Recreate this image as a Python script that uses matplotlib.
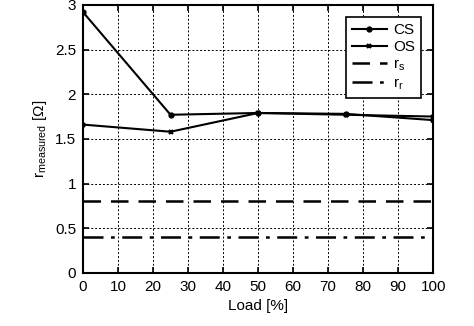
import matplotlib
matplotlib.use('Agg')
import matplotlib.pyplot as plt
import numpy as np

plt.rcParams['font.family'] = ['Liberation Sans', 'DejaVu Sans']
plt.rcParams['mathtext.fontset'] = 'custom'
plt.rcParams['mathtext.rm'] = 'Liberation Sans'

load = [0, 25, 50, 75, 100]
cs = [2.92, 1.77, 1.79, 1.78, 1.71]
os_ = [1.66, 1.58, 1.79, 1.77, 1.75]
r_s = 0.8
r_r = 0.4

fig = plt.figure(figsize=(4.74, 3.26), dpi=100)
ax = fig.add_axes([0.175, 0.163, 0.739, 0.822])

ax.plot(load, cs, color='black', lw=1.5, marker='o', ms=3.5, label='CS')
ax.plot(load, os_, color='black', lw=1.5, marker='x', ms=3.5, mew=1.5, label='OS')
ax.axhline(r_s, color='black', lw=1.8, ls=(0, (7, 4)), label='r$_{\\rm s}$')
ax.axhline(r_r, color='black', lw=1.8, ls=(0, (8, 3, 1.5, 3)), label='r$_{\\rm r}$')

ax.set_xlim(0, 100)
ax.set_ylim(0, 3)
ax.set_xticks(np.arange(0, 101, 10))
ax.set_yticks([0, 0.5, 1, 1.5, 2, 2.5, 3])
ax.set_yticklabels(['0', '0.5', '1', '1.5', '2', '2.5', '3'])
ax.grid(True, color='black', ls=(0, (2, 2)), lw=0.7)
ax.tick_params(direction='in', top=True, right=True, labelsize=11, length=4, width=1.2, pad=5)
for s in ax.spines.values():
    s.set_linewidth(1.5)

ax.set_xlabel('Load [%]', fontsize=11)
ax.set_ylabel('r$_{\\rm measured}$ [Ω]', fontsize=11)

leg = ax.legend(loc='upper right', fontsize=11, fancybox=False, framealpha=1,
                edgecolor='black', handlelength=2.3, borderpad=0.4,
                labelspacing=0.2, handletextpad=0.4, borderaxespad=0.8)
leg.get_frame().set_linewidth(1.2)

fig.savefig('out.png', dpi=100)
